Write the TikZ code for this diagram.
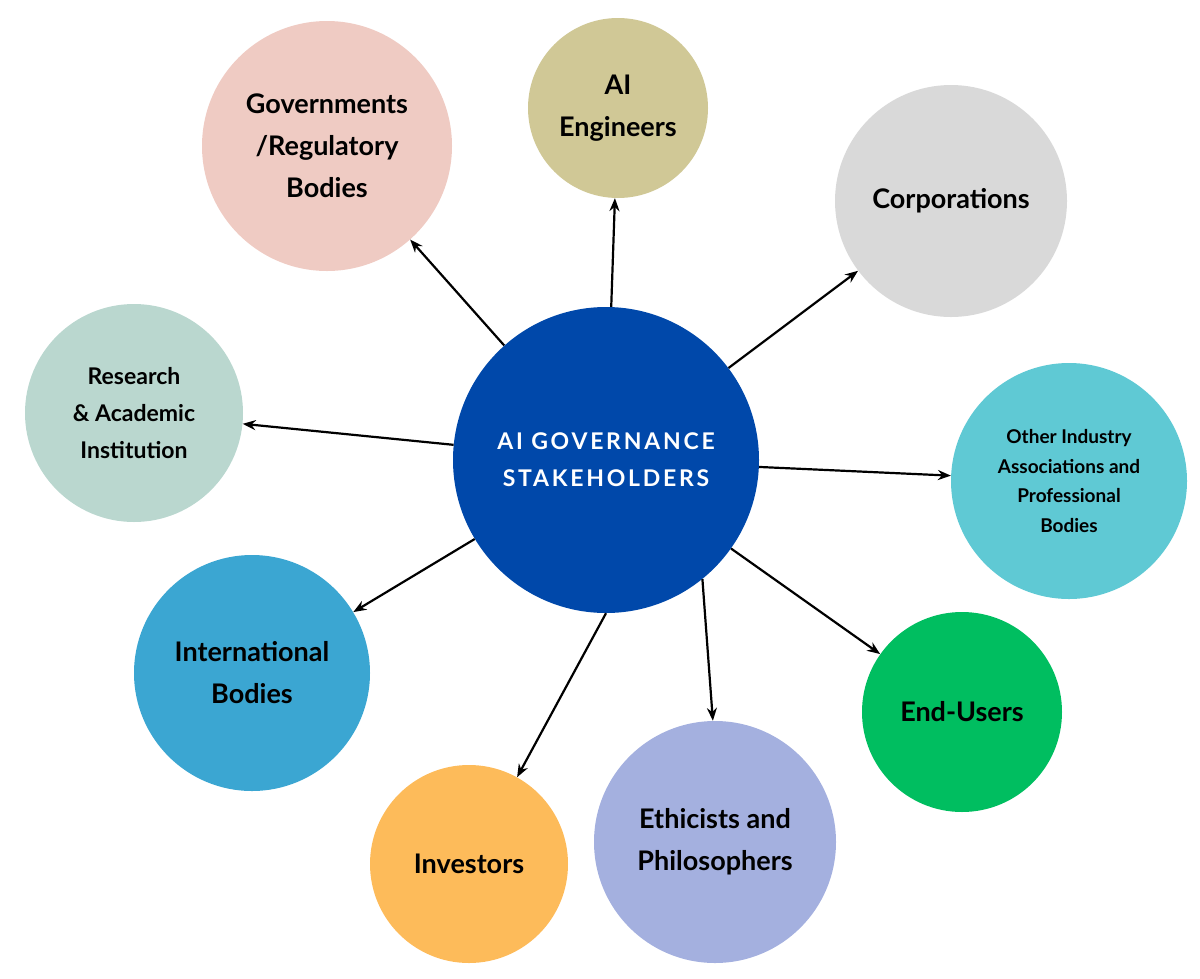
\documentclass[tikz,border=0pt]{standalone}
\usepackage{fontspec}
\setmainfont{Lato}[UprightFont=* Bold]
\usetikzlibrary{arrows.meta}
\definecolor{cmain}{RGB}{0,72,170}
\definecolor{cgov}{RGB}{239,203,195}
\definecolor{ceng}{RGB}{208,200,150}
\definecolor{ccorp}{RGB}{217,217,217}
\definecolor{cres}{RGB}{186,215,207}
\definecolor{coth}{RGB}{95,201,212}
\definecolor{cint}{RGB}{59,166,210}
\definecolor{cend}{RGB}{0,190,96}
\definecolor{cinv}{RGB}{253,187,90}
\definecolor{ceth}{RGB}{164,176,223}
\tikzset{
 bub/.style={circle,inner sep=0pt,align=center,text=black,font=\fontsize{27}{42}\selectfont},
 arr/.style={-{Stealth[length=13pt,width=10pt]},line width=2.2pt,black}
}
\begin{document}
\begin{tikzpicture}[x=1pt,y=-1pt]
\useasboundingbox (0,0) rectangle (1200,978);
\node[bub,fill=cmain,minimum size=306pt,text=white,font=\fontsize{23}{37}\selectfont\addfontfeature{LetterSpace=12}] (c) at (606,460) {AI GOVERNANCE\\STAKEHOLDERS};
\node[bub,fill=cgov,minimum size=250pt] (g) at (327,146) {Governments\\/Regulatory\\Bodies};
\node[bub,fill=ceng,minimum size=180pt] (e) at (618,108) {AI\\Engineers};
\node[bub,fill=ccorp,minimum size=232pt] (co) at (951,201) {Corporations};
\node[bub,fill=cres,minimum size=218pt,font=\fontsize{23}{37}\selectfont] (r) at (134,413) {Research\\\& Academic\\Institution};
\node[bub,fill=coth,minimum size=236pt,font=\fontsize{19}{29.5}\selectfont] (o) at (1069,481) {Other Industry\\Associations and\\Professional\\Bodies};
\node[bub,fill=cint,minimum size=236pt] (i) at (252,673) {International\\Bodies};
\node[bub,fill=cend,minimum size=200pt] (u) at (962,712) {End-Users};
\node[bub,fill=cinv,minimum size=198pt] (v) at (469,864) {Investors};
\node[bub,fill=ceth,minimum size=242pt] (t) at (715,842) {Ethicists and\\Philosophers};
\draw[arr] (c) -- (g);
\draw[arr] (c) -- (e);
\draw[arr] (c) -- (co);
\draw[arr] (c) -- (r);
\draw[arr] (c) -- (o);
\draw[arr] (c) -- (i);
\draw[arr] (c) -- (u);
\draw[arr] (c.-90) -- (v.61);
\draw[arr] (c.-51) -- (t.91);
\end{tikzpicture}
\end{document}
